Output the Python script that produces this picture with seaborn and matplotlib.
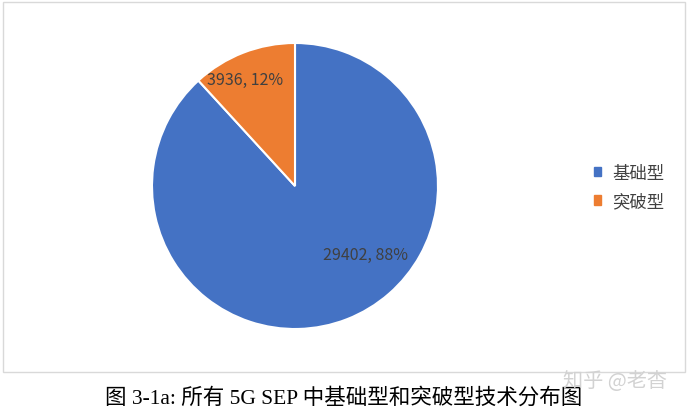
import numpy as np
import matplotlib
matplotlib.use("Agg")
import matplotlib.pyplot as plt
import seaborn as sns
from matplotlib.patches import Rectangle, Patch

categories = ['基础型', '突破型']
values = [29402, 3936]
colors = ['#4472C4', '#ED7D31']
caption = '图 3-1a: 所有 5G SEP 中基础型和突破型技术分布图'
watermark = '知乎 @老杳'

sns.set_theme(style="white")
plt.rcParams['font.family'] = ['Noto Sans CJK SC', 'DejaVu Sans']

W, H = 688, 414
fig = plt.figure(figsize=(W / 100, H / 100), dpi=100)
fig.patch.set_facecolor('white')

# frame box
fig.patches.append(Rectangle((3 / W, 1 - 373 / H), 682 / W, 370 / H,
                             transform=fig.transFigure, fill=False,
                             edgecolor='#d9d9d9', lw=1.0))

cx, cy, r = 295, 187, 143
ax = fig.add_axes([(cx - r) / W, 1 - (cy + r) / H, 2 * r / W, 2 * r / H])
total = sum(values)
wedges, _ = ax.pie(values, colors=colors, startangle=90, counterclock=False,
                   radius=1, wedgeprops=dict(edgecolor='white', linewidth=1.5))
ax.set_xlim(-1, 1)
ax.set_ylim(-1, 1)
ax.set_aspect('auto')
ax.axis('off')

# data labels (Excel-style placement)
label_pos = [(-44, 0.69), (115, 0.82)]
for v, (ang, rr) in zip(values, label_pos):
    pct = round(v / total * 100)
    a = np.deg2rad(ang)
    ax.text(rr * np.cos(a), rr * np.sin(a), f'{v}, {pct}%', ha='center',
            va='center', fontsize=11.5, color='#404040')

handles = [Patch(facecolor=c, edgecolor=c) for c in colors]
fig.legend(handles, categories, loc='center left',
           bbox_to_anchor=(578 / W, 1 - 188 / H), frameon=False,
           fontsize=12.5, handlelength=0.45, handleheight=0.45,
           handletextpad=0.6, labelspacing=0.6, labelcolor='#404040')

fig.text(344 / W, 1 - 398 / H, caption, ha='center', va='center',
         fontsize=15.5, color='black',
         family=['Liberation Serif', 'Noto Sans CJK SC'])
fig.text(615 / W, 1 - 382 / H, watermark, ha='center', va='center',
         fontsize=14.5, color='#d2d2d2')

fig.savefig('out.png', dpi=100, facecolor='white')
